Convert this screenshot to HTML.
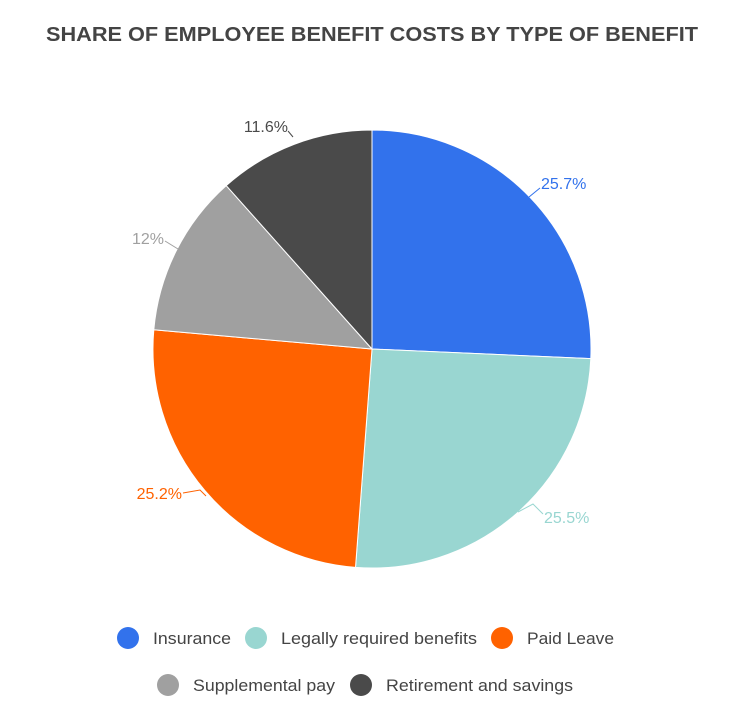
<!DOCTYPE html>
<html><head><style>
body{margin:0;background:#fff;width:743px;height:719px;overflow:hidden;font-family:"Liberation Sans",sans-serif}
</style></head><body>
<svg width="743" height="719" xmlns="http://www.w3.org/2000/svg" font-family="Liberation Sans, sans-serif">
<text x="46" y="41" textLength="652" lengthAdjust="spacingAndGlyphs" font-size="20" font-weight="bold" fill="#444">SHARE OF EMPLOYEE BENEFIT COSTS BY TYPE OF BENEFIT</text>
<g stroke="#fff" stroke-width="1">
<path d="M372,349 L372,130 A219,219 0 0 1 590.8,358.6 Z" fill="#3272ec"/>
<path d="M372,349 L590.8,358.6 A219,219 0 0 1 355.5,567.4 Z" fill="#99d6d1"/>
<path d="M372,349 L355.5,567.4 A219,219 0 0 1 153.8,329.8 Z" fill="#ff6200"/>
<path d="M372,349 L153.8,329.8 A219,219 0 0 1 226.2,185.6 Z" fill="#a0a0a0"/>
<path d="M372,349 L226.2,185.6 A219,219 0 0 1 372,130 Z" fill="#4a4a4a"/>
</g>
<g fill="none" stroke-width="1">
<polyline points="529,197 540,188" stroke="#3272ec"/>
<polyline points="518,512 533,504 543,514" stroke="#99d6d1"/>
<polyline points="183,493 200,490 206,496" stroke="#ff6200"/>
<polyline points="165,241 178,249" stroke="#a0a0a0"/>
<polyline points="288,131 293,137" stroke="#4a4a4a"/>
</g>
<g font-size="16">
<text x="541" y="189" fill="#3272ec">25.7%</text>
<text x="544" y="523" fill="#99d6d1">25.5%</text>
<text x="182" y="499" text-anchor="end" fill="#ff6200">25.2%</text>
<text x="164" y="244" text-anchor="end" fill="#a0a0a0">12%</text>
<text x="288" y="132" text-anchor="end" fill="#4a4a4a">11.6%</text>
</g>
<g font-size="17" fill="#444">
<circle cx="128" cy="638" r="11" fill="#3272ec"/><text x="153" y="644" textLength="78" lengthAdjust="spacingAndGlyphs">Insurance</text>
<circle cx="256" cy="638" r="11" fill="#99d6d1"/><text x="281" y="644" textLength="196" lengthAdjust="spacingAndGlyphs">Legally required benefits</text>
<circle cx="502" cy="638" r="11" fill="#ff6200"/><text x="527" y="644" textLength="87" lengthAdjust="spacingAndGlyphs">Paid Leave</text>
<circle cx="168" cy="685" r="11" fill="#a0a0a0"/><text x="193" y="691" textLength="142" lengthAdjust="spacingAndGlyphs">Supplemental pay</text>
<circle cx="361" cy="685" r="11" fill="#4a4a4a"/><text x="386" y="691" textLength="187" lengthAdjust="spacingAndGlyphs">Retirement and savings</text>
</g>
</svg>
</body></html>
